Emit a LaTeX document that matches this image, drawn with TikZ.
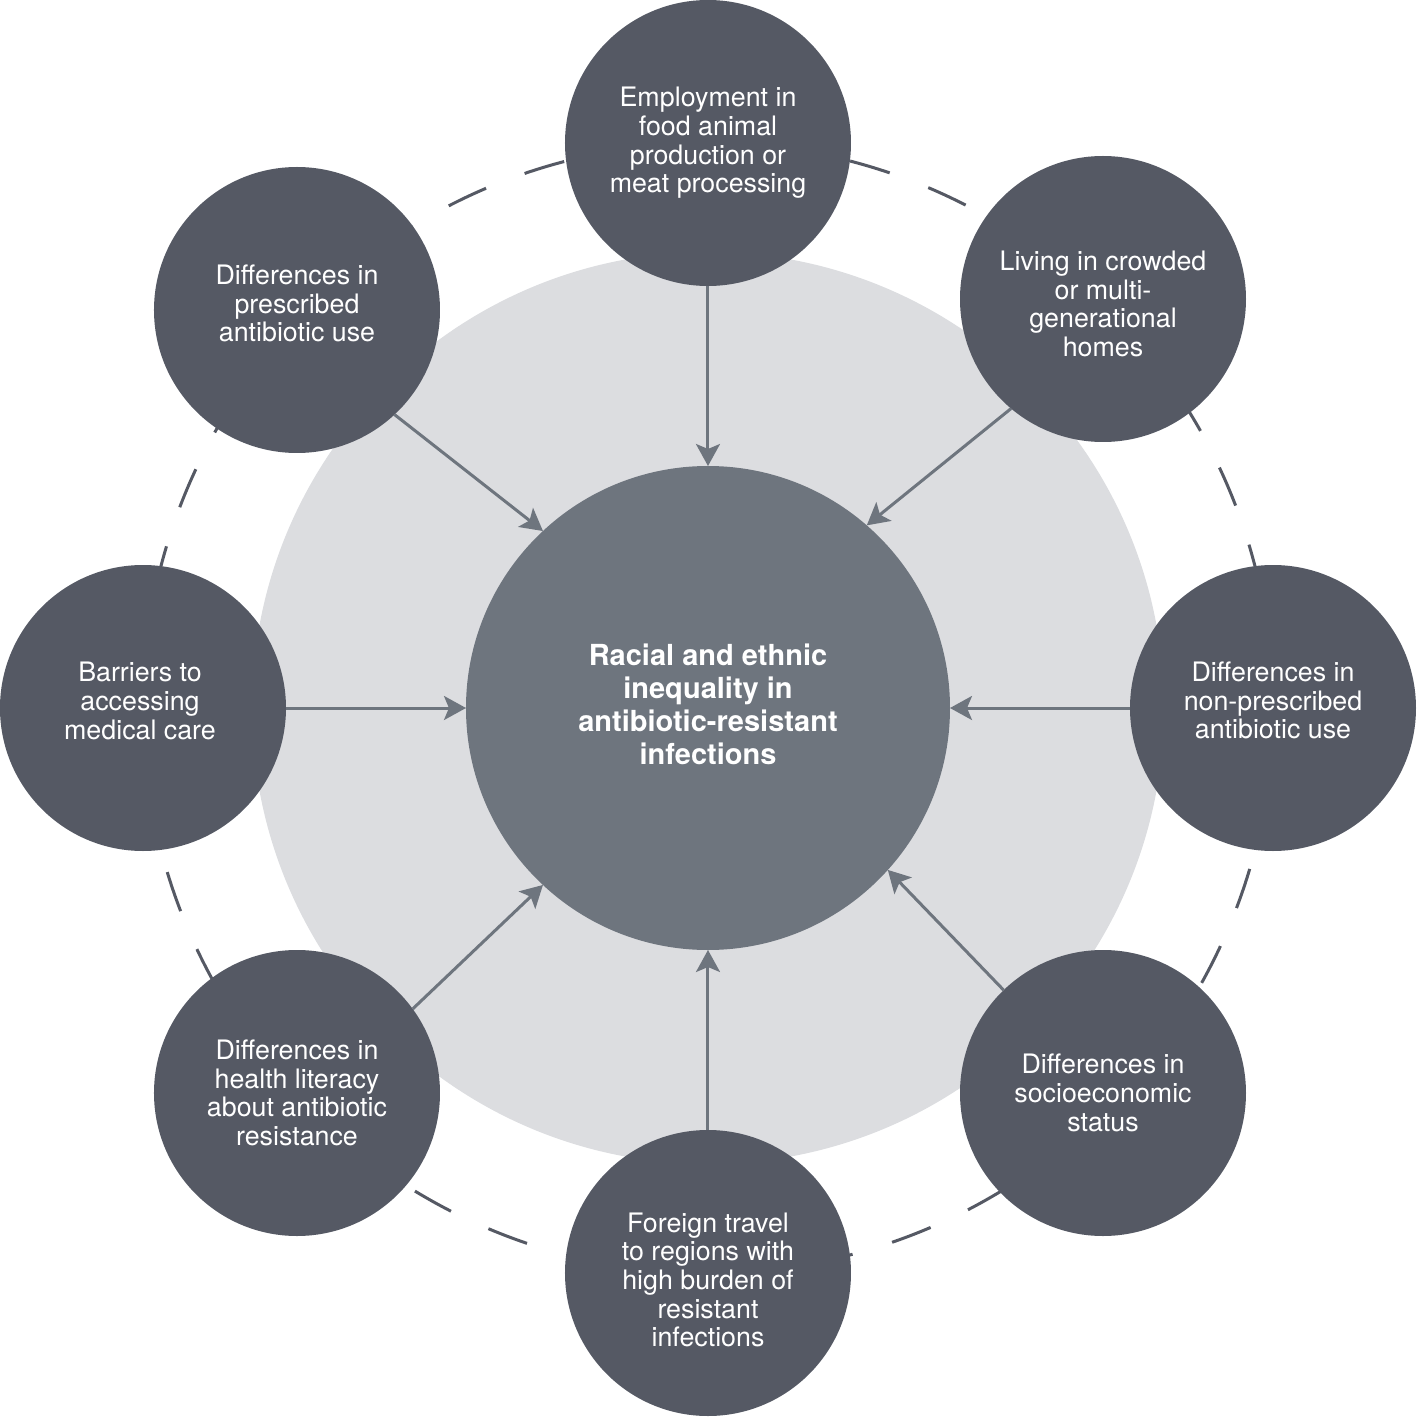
\documentclass[tikz,border=0pt]{standalone}
\usepackage{fontspec}
\setmainfont{TeX Gyre Heros}
\usetikzlibrary{arrows.meta}
\definecolor{outerc}{HTML}{555964}
\definecolor{centerc}{HTML}{6E757E}
\definecolor{haloc}{HTML}{DCDDE0}
\tikzset{
  factor/.style={circle, fill=outerc, draw=none, minimum size=286pt, inner sep=0pt, outer sep=0pt},
  ftext/.style={text=white, align=center, inner sep=0pt, font=\fontsize{26.8pt}{28.7pt}\selectfont},
  core/.style={circle, fill=centerc, draw=none, minimum size=484pt, inner sep=0pt, outer sep=0pt},
  ctext/.style={text=white, align=center, inner sep=0pt, font=\bfseries\fontsize{29pt}{33pt}\selectfont},
  link/.style={draw=centerc, line width=3pt, -{Stealth[length=22pt, width=24pt, inset=5pt]}},
  ring/.style={draw=outerc, line width=3pt, dash pattern=on 41.3pt off 41.3pt}
}
\begin{document}
\begin{tikzpicture}[x=1pt, y=1pt]
\useasboundingbox (-708,-709) rectangle (709,708);
\fill[haloc] (0,0) circle[radius=456];
\draw[ring] (4.24:565) arc[start angle=4.24, end angle=364.24, radius=565];
\node[core] (c) at (0,0) {};
\node[factor] (t) at (0,565) {};
\node[factor] (tr) at (395,409) {};
\node[factor] (r) at (565,0) {};
\node[factor] (br) at (395,-385) {};
\node[factor] (b) at (0,-565) {};
\node[factor] (bl) at (-411,-385) {};
\node[factor] (l) at (-565,0) {};
\node[factor] (tl) at (-411,398) {};
\node[ctext] (ct) at ([yshift=4pt]c.center) {Racial and ethnic\\inequality in\\antibiotic-resistant\\infections};
\node[ftext] (tt) at (t.center) {Employment in\\food animal\\production or\\meat processing};
\node[ftext] (trt) at ([yshift=-5pt]tr.center) {Living in crowded\\or multi-\\generational\\homes};
\node[ftext] (rt) at ([yshift=7.5pt]r.center) {Differences in\\non-prescribed\\antibiotic use};
\node[ftext] (brt) at (br.center) {Differences in\\socioeconomic\\status};
\node[ftext] (bt) at ([yshift=-7pt]b.center) {Foreign travel\\to regions with\\high burden of\\resistant\\infections};
\node[ftext] (blt) at (bl.center) {Differences in\\health literacy\\about antibiotic\\resistance};
\node[ftext] (lt) at ([xshift=-3pt,yshift=7pt]l.center) {Barriers to\\accessing\\medical care};
\node[ftext] (tlt) at ([yshift=6.5pt]tl.center) {Differences in\\prescribed\\antibiotic use};
\draw[link] (t) -- (c);
\draw[link] (r) -- (c);
\draw[link] (b) -- (c);
\draw[link] (l) -- (c);
\draw[link] (tl.-47.5) -- (c.133.6);
\draw[link] (tr.230.5) -- (c.49.1);
\draw[link] (br.134.2) -- (c.-42.8);
\draw[link] (bl.36.2) -- (c.227.6);
\end{tikzpicture}
\end{document}
